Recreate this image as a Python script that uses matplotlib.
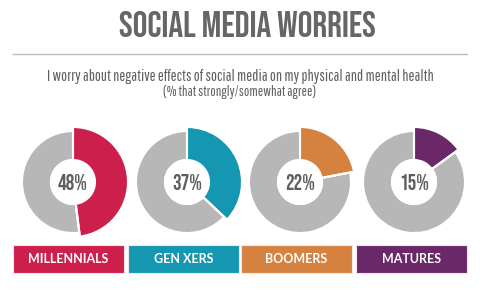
import matplotlib
matplotlib.use('Agg')
import matplotlib.pyplot as plt

# data
groups = ['MILLENNIALS', 'GEN XERS', 'BOOMERS', 'MATURES']
agree_pct = [48, 37, 22, 15]
group_colors = ['#CC1F4B', '#1597B1', '#D58240', '#6A2869']

title = 'SOCIAL MEDIA WORRIES'
subtitle = 'I worry about negative effects of social media on my physical and mental health'
note = '(% that strongly/somewhat agree)'

HEAD = ['Bebas Neue', 'DejaVu Sans']
BODY = ['Pathway Gothic One', 'DejaVu Sans']
LABEL = ['Lato', 'DejaVu Sans']
TEXT_GRAY = '#5E5E5E'
RING_GRAY = '#B7B7B7'

fig = plt.figure(figsize=(4.88, 2.98), dpi=100)
ax = fig.add_axes([0, 0, 1, 1])

# layout in pixels (y measured from the bottom)
H = 298
centers_x = [73, 187, 300, 414]
center_y = H - 182
r_gray, r_col, r_hole = 51, 55, 22

for cx, pct, col in zip(centers_x, agree_pct, group_colors):
    vals = [pct, 100 - pct]
    # gray remainder ring
    ax.pie(vals, center=(cx, center_y), radius=r_gray, startangle=90, counterclock=False,
           colors=['none', RING_GRAY],
           wedgeprops=dict(width=r_gray - r_hole, edgecolor='white', linewidth=1.5))
    # coloured share, drawn slightly larger
    ax.pie(vals, center=(cx, center_y), radius=r_col, startangle=90, counterclock=False,
           colors=[col, 'none'],
           wedgeprops=dict(width=r_col - r_hole, edgecolor='white', linewidth=1.5))
    ax.text(cx, center_y, f'{pct}%', ha='center', va='center', fontsize=15.5,
            color=TEXT_GRAY, family=HEAD)

# label boxes under each donut
bar_left = [13, 128, 241, 356]
bar_w = 111
bar_bottom, bar_h = H - 273, 28
ax.bar(bar_left, bar_h, width=bar_w, bottom=bar_bottom, align='edge',
       color=group_colors, edgecolor='#F2E6EA', linewidth=0.8)
for x0, name in zip(bar_left, groups):
    ax.text(x0 + bar_w / 2, bar_bottom + bar_h / 2, name, ha='center', va='center',
            fontsize=9, fontweight='bold', color='white', family=LABEL)

# title block
ax.text(247, H - 24, title, ha='center', va='center', fontsize=26.5,
        color='#666666', family=HEAD)
ax.plot([13, 467], [H - 54, H - 54], color='#BDBDBD', linewidth=1)
ax.text(240, H - 77, subtitle, ha='center', va='center', fontsize=11.3,
        color=TEXT_GRAY, family=BODY)
ax.text(240, H - 92, note, ha='center', va='center', fontsize=10.3,
        color=TEXT_GRAY, family=BODY)

ax.set_xlim(0, 488)
ax.set_ylim(0, H)
ax.set_aspect('auto')
ax.axis('off')

fig.savefig('out.png', dpi=100)
